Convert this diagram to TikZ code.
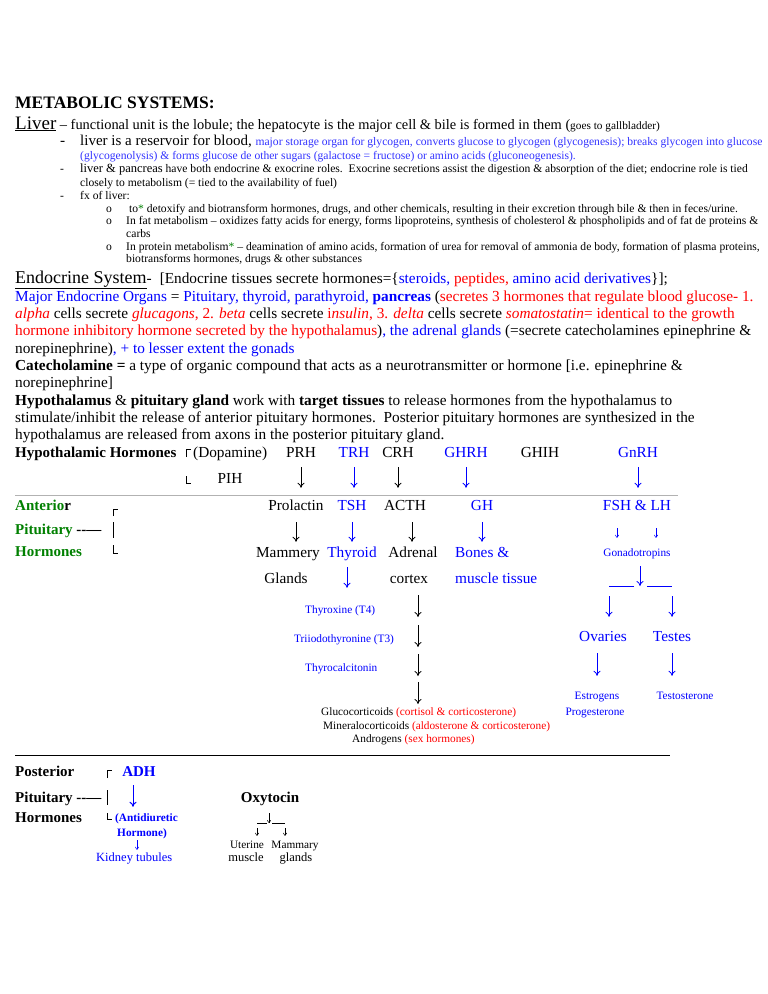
\documentclass[tikz,border=0pt]{standalone}
\usepackage{fontspec}
\setmainfont{Liberation Serif}
\usetikzlibrary{arrows.meta}
\definecolor{hgreen}{RGB}{0,128,0}
\definecolor{hblue}{RGB}{0,0,255}
\definecolor{lblue}{RGB}{51,51,255}
\definecolor{hred}{RGB}{255,0,0}
\newcommand{\fsmall}{\fontsize{11.3}{13}\selectfont}
\newcommand{\fnote}{\fontsize{11.6}{13}\selectfont}
\newcommand{\fmid}{\fontsize{12.5}{14}\selectfont}
\newcommand{\fmain}{\fontsize{15.3}{17}\selectfont}
\newcommand{\fhead}{\fontsize{19}{22}\selectfont}
\tikzset{txt/.style={anchor=base west,inner sep=0pt,font=\fmain},
  stxt/.style={txt,font=\fsmall},
  ntxt/.style={txt,font=\fnote},
  word/.style={anchor=base,inner sep=0pt,font=\fmain,text height=10.5pt,text depth=3.5pt},
  sword/.style={word,font=\fsmall,text height=8pt,text depth=2.5pt},
  mword/.style={word,font=\fmid,text height=9pt,text depth=3pt},
  darr/.style={-{To[length=5pt,width=7pt]},line width=0.8pt},
  sarr/.style={-{To[length=3pt,width=4pt]},line width=0.5pt},
  brk/.style={line width=0.7pt}}

\begin{document}
\begin{tikzpicture}[x=1pt,y=-1pt]
  \path[use as bounding box,fill=white] (0,0) rectangle (768,994);

  % liver notes
  \node (title) [txt,font=\fontsize{17.5}{20}\selectfont\bfseries] at (15,108) {METABOLIC SYSTEMS:};
  \node (liver) [txt,font=\fontsize{14.4}{17}\selectfont] at (15,129) {{\fhead\underline{Liver}} – functional unit is the lobule; the hepatocyte is the major cell \& bile is formed in them ({\fsmall goes to gallbladder)}};
  \node (d1) [txt] at (60,145) {-};
  \node (res) [txt,font=\fontsize{15}{17}\selectfont] at (80,145) {liver is a reservoir for blood, \textcolor{lblue}{\fnote major storage organ for glycogen, converts glucose to glycogen (glycogenesis); breaks glycogen into glucose}};
  \node (glyco) [ntxt,text=lblue] at (80,159) {(glycogenolysis) \& forms glucose de other sugars (galactose = fructose) or amino acids (gluconeogenesis).};
  \node (d2) [ntxt] at (60,172) {-};
  \node (panc) [ntxt] at (80,172) {{\fmid liver \& pancreas} have both endocrine \& exocrine roles.\ \ Exocrine secretions assist the digestion \& absorption of the diet; endocrine role is tied};
  \node (closely) [ntxt] at (80,186) {closely to metabolism (= tied to the availability of fuel)};
  \node (d3) [ntxt] at (60,199) {-};
  \node (fx) [ntxt] at (80,199) {fx of liver:};
  \foreach \y [count=\i] in {212,224,250}
    \node (b\i) [ntxt] at (106,\y) {o};
  \node (detox) [ntxt] at (126,212) {\ to\textcolor{hgreen}{*} detoxify and biotransform hormones, drugs, and other chemicals, resulting in their excretion through bile \& then in feces/urine.};
  \node (fat) [ntxt] at (126,224) {In fat metabolism – oxidizes fatty acids for energy, forms lipoproteins, synthesis of cholesterol \& phospholipids and of fat de proteins \&};
  \node (carbs) [ntxt] at (126,237) {carbs};
  \node (prot) [ntxt] at (126,250) {In protein metabolism\textcolor{hgreen}{*} – deamination of amino acids, formation of urea for removal of ammonia de body, formation of plasma proteins,};
  \node (biotr) [ntxt] at (126,262) {biotransforms hormones, drugs \& other substances};

  % endocrine notes
  \node (endo) [txt] at (15,283) {{\fontsize{18}{22}\selectfont\underline{Endocrine System}}-\hspace{8pt}[Endocrine tissues secrete hormones=\{\textcolor{hblue}{steroids,} \textcolor{hred}{peptides,} \textcolor{hblue}{amino acid derivatives}\}];};
  \node (organs) [txt] at (15,301) {\textcolor{hblue}{Major Endocrine Organs} = \textcolor{hblue}{Pituitary, thyroid, parathyroid, \textbf{pancreas}} (\textcolor{hred}{secretes 3 hormones that regulate blood glucose- 1.}};
  \node (cells) [txt] at (15,318) {\textcolor{hred}{\textit{alpha}} cells secrete \textcolor{hred}{\textit{glucagons}, 2. \textit{beta}} cells secrete \textcolor{hred}{i\textit{nsulin}, 3. \textit{delta}} cells secrete \textcolor{hred}{\textit{somatostatin}= identical to the growth}};
  \node (inhib) [txt] at (15,335) {\textcolor{hred}{hormone inhibitory hormone secreted by the hypothalamus})\textcolor{hblue}{, the adrenal glands} (=secrete catecholamines epinephrine \&};
  \node (gonads) [txt] at (15,353) {norepinephrine)\textcolor{hblue}{, + to lesser extent the gonads}};
  \node (catechol) [txt] at (15,370) {\textbf{Catecholamine =} a type of organic compound that acts as a neurotransmitter or hormone [i.e. epinephrine \&};
  \node (norepi) [txt] at (15,387) {norepinephrine]};
  \node (hypoth) [txt] at (15,405) {\textbf{Hypothalamus} \& \textbf{pituitary gland} work with \textbf{target tissues} to release hormones from the hypothalamus to};
  \node (stim) [txt] at (15,422) {stimulate/inhibit the release of anterior pituitary hormones.\ \ Posterior pituitary hormones are synthesized in the};
  \node (axons) [txt] at (15,439) {hypothalamus are released from axons in the posterior pituitary gland.};

  % hypothalamic hormones
  \node (hh)   [txt,font=\fontsize{15}{17}\selectfont\bfseries] at (15,457) {Hypothalamic Hormones};
  \node (dopa) [txt] at (193,457) {(Dopamine)};
  \node (pih)  [word] at (230,483) {PIH};
  \node (prh)  [word] at (301,457) {PRH};
  \node (trh)  [word,text=hblue] at (354,457) {TRH};
  \node (crh)  [word] at (398,457) {CRH};
  \node (ghrh) [word,text=hblue] at (466,457) {GHRH};
  \node (ghih) [word] at (540,457) {GHIH};
  \node (gnrh) [word,text=hblue] at (638,457) {GnRH};
  \draw[brk] (186,457) -- (186,449) -- (191,449);
  \draw[brk] (186,476) -- (186,483) -- (191,483);
  \draw[gray!60,line width=0.8pt] (15,495) -- (678,495);

  % anterior pituitary
  \node (ant)  [txt,font=\fontsize{15}{17}\selectfont\bfseries,text=hgreen] at (15,510) {Anterio\textcolor{black}{r}};
  \node (pit)  [txt,font=\fontsize{15}{17}\selectfont\bfseries,text=hgreen] at (15,534) {Pituitary \textcolor{black}{-{}-—}};
  \node (hor)  [txt,font=\fontsize{15}{17}\selectfont\bfseries,text=hgreen] at (15,556) {Hormones};
  \draw[brk] (113,516) -- (113,509) -- (118,509);
  \draw[brk] (113,522) -- (113,538);
  \draw[brk] (113,545) -- (113,553) -- (118,553);
  \node (prol) [word] at (296,510) {Prolactin};
  \node (tsh)  [word,text=hblue] at (352,510) {TSH};
  \node (acth) [word] at (405,510) {ACTH};
  \node (gh)   [word,text=hblue] at (482,510) {GH};
  \node (fsh)  [word,text=hblue] at (637,510) {FSH \& LH};
  \node (mam)  [word] at (288,557) {Mammery};
  \node (thy)  [word,text=hblue] at (352,557) {Thyroid};
  \node (adr)  [word] at (413,557) {Adrenal};
  \node (bones) [word,anchor=base west,text=hblue] at (455,557) {Bones \&};
  \node (gona) [sword,text=hblue] at (637,556) {Gonadotropins};
  \node (glands) [word] at (286,583) {Glands};
  \node (cortex) [word] at (409,583) {cortex};
  \node (muscle) [word,anchor=base west,text=hblue] at (455,583) {muscle tissue};
  \node (t4) [sword,anchor=base west,text=hblue] at (305,613) {Thyroxine (T4)};
  \node (t3) [sword,anchor=base west,text=hblue] at (294,642) {Triiodothyronine (T3)};
  \node (tc) [sword,anchor=base west,text=hblue] at (305,671) {Thyrocalcitonin};
  \node (ovaries) [word,text=hblue] at (603,641) {Ovaries};
  \node (testes)  [word,text=hblue] at (672,641) {Testes};
  \node (estro) [sword,text=hblue] at (597,699) {Estrogens};
  \node (testo) [sword,text=hblue] at (685,699) {Testosterone};
  \node (proges) [sword,text=hblue] at (595,715) {Progesterone};
  \node (gluco) [stxt] at (321,715) {Glucocorticoids \textcolor{hred}{(cortisol \& corticosterone)}};
  \node (mineral) [stxt] at (323,729) {Mineralocorticoids \textcolor{hred}{(aldosterone \& corticosterone)}};
  \node (andro) [stxt] at (352,742) {Androgens \textcolor{hred}{(sex hormones)}};
  \coordinate (split)  at (640,586);
  \coordinate (splitl) at (609,586);
  \coordinate (splitr) at (672,586);
  \foreach \i/\y in {1/595,2/625,3/654,4/682} {
    \coordinate (ca\i) at (418,\y);
    \coordinate (cb\i) at (418,\y+22);
    \draw[darr] (ca\i) -- (cb\i);
  }

  \path (prh.south)  edge[darr,shorten <=6.5pt,shorten >=11.5pt] (prh.south |- prol.north)
        (trh.south)  edge[darr,hblue,shorten <=6.5pt,shorten >=11.5pt] (trh.south |- tsh.north)
        (crh.south)  edge[darr,shorten <=6.5pt,shorten >=11.5pt] (crh.south |- acth.north)
        (ghrh.south) edge[darr,hblue,shorten <=6.5pt,shorten >=11.5pt] (ghrh.south |- gh.north)
        (gnrh.south) edge[darr,hblue,shorten <=6.5pt,shorten >=11.5pt] (gnrh.south |- fsh.north)
        (prol.south) edge[darr,shorten <=8.5pt,shorten >=4.5pt] (prol.south |- mam.north)
        (tsh.south)  edge[darr,hblue,shorten <=8.5pt,shorten >=4.5pt] (tsh.south |- thy.north)
        ([xshift=7pt]acth.south) edge[darr,shorten <=8.5pt,shorten >=4.5pt] ([xshift=7pt]acth.south |- adr.north)
        (gh.south)   edge[darr,hblue,shorten <=8.5pt,shorten >=4.5pt] (gh.south |- bones.north)
        ([xshift=-20pt]fsh.south) edge[sarr,hblue,shorten <=14.5pt,shorten >=10pt] ([xshift=-20pt]fsh.south |- gona.north)
        ([xshift=19pt]fsh.south)  edge[sarr,hblue,shorten <=14.5pt,shorten >=10pt] ([xshift=19pt]fsh.south |- gona.north)
        ([xshift=-5pt]thy.south)  edge[darr,hblue,shorten <=6.5pt,shorten >=17pt] ([xshift=-5pt]thy.south |- t4.north)
        (gona.south -| split) edge[darr,hblue,shorten <=7.5pt] (split)
        (splitl) edge[darr,hblue,shorten <=10pt,shorten >=13.5pt] (splitl |- ovaries.north)
        (splitr) edge[darr,hblue,shorten <=10pt,shorten >=13.5pt] (splitr |- testes.north)
        (estro.north |- ovaries.south) edge[darr,hblue,shorten <=8.5pt,shorten >=15pt] (estro.north)
        (testes.south) edge[darr,hblue,shorten <=8.5pt,shorten >=15pt] (testes.south |- testo.north);
  \draw[hblue,line width=0.8pt] ([xshift=-6pt]split) -- (splitl);
  \draw[hblue,line width=0.8pt] ([xshift=7pt]split) -- (splitr);

  % posterior pituitary
  \draw (15,755) -- (670,755);
  \node (post) [txt,font=\fontsize{15}{17}\selectfont\bfseries] at (15,776) {Posterior};
  \node (pitp) [txt,font=\fontsize{15}{17}\selectfont\bfseries] at (15,802) {Pituitary -{}-—};
  \node (horp) [txt,font=\fontsize{15}{17}\selectfont\bfseries] at (15,822) {Hormones};
  \draw[brk] (107,778) -- (107,770) -- (112,770);
  \draw[brk] (107,790) -- (107,805);
  \draw[brk] (107,813) -- (107,819) -- (112,819);
  \node (adh) [word,font=\fontsize{15}{17}\selectfont\bfseries,text=hblue] at (139,776) {ADH};
  \node (antid) [sword,anchor=base west,font=\fsmall\bfseries,text=hblue] at (115,821) {(Antidiuretic};
  \node (hormp) [sword,font=\fsmall\bfseries,text=hblue] at (142,836) {Hormone)};
  \node (kidney) [mword,anchor=base west,text=hblue] at (96,861) {Kidney tubules};
  \node (oxy) [word,font=\fontsize{15}{17}\selectfont\bfseries] at (270,802) {Oxytocin};
  \coordinate (osplit) at (269,823);
  \coordinate (osl) at (257,823);
  \coordinate (osr) at (285,823);
  \node (uter) [sword] at (247,848) {Uterine};
  \node (mamm) [sword] at (295,848) {Mammary};
  \node (musc) [mword] at (246,861) {muscle};
  \node (glan) [mword] at (296,861) {glands};

  \path ([xshift=-6pt]adh.south) edge[darr,hblue,line width=1pt,shorten <=5.5pt,shorten >=6pt] ([xshift=-6pt]adh.south |- antid.north)
        ([xshift=-5pt]hormp.south) edge[sarr,hblue,shorten <=1.5pt,shorten >=2pt] ([xshift=-5pt]hormp.south |- kidney.north)
        (oxy.south -| osplit) edge[sarr,shorten <=7.5pt] (osplit)
        (osl) edge[sarr,shorten <=5pt,shorten >=4pt] (osl |- uter.north)
        (osr) edge[sarr,shorten <=5pt,shorten >=4pt] (osr |- mamm.north);
  \draw[line width=0.5pt] ([xshift=-2pt]osplit) -- (osl);
  \draw[line width=0.5pt] ([xshift=3pt]osplit) -- (osr);
\end{tikzpicture}
\end{document}
